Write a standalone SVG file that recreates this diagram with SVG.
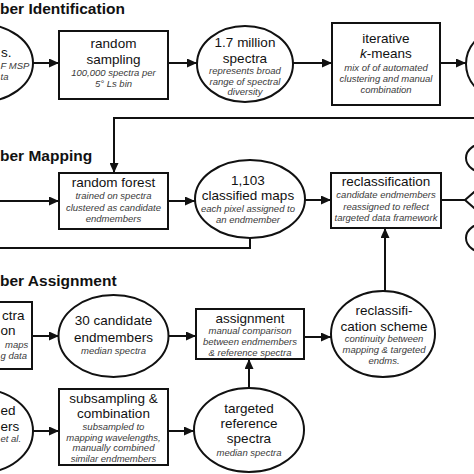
<svg xmlns="http://www.w3.org/2000/svg" width="474" height="474" viewBox="0 0 474 474">
<defs>
<marker id="ah" markerUnits="userSpaceOnUse" markerWidth="11" markerHeight="9" refX="10" refY="4.5" orient="auto">
<path d="M0,0 L10,4.5 L0,9 z" fill="#111"/>
</marker>
<style>
.t{font-family:"Liberation Sans",Arial,sans-serif;font-weight:bold;font-size:15.5px;fill:#111}
.m{font-family:"Liberation Sans",Arial,sans-serif;font-size:13.5px;fill:#111;text-anchor:middle}
.s{font-family:"Liberation Sans",Arial,sans-serif;font-size:9.5px;font-style:italic;fill:#3a3a3a;text-anchor:middle}
.l{text-anchor:start}
.n{fill:#fff;stroke:#111;stroke-width:2}
.c{fill:none;stroke:#111;stroke-width:2}
.a{marker-end:url(#ah)}
</style>
</defs>
<rect width="474" height="474" fill="#fff"/>
<g id="titles">
<text class="t" x="0" y="14">ber Identification</text>
<text class="t" x="0" y="161">ber Mapping</text>
<text class="t" x="0" y="286">ber Assignment</text>
</g>
<g id="connectors">
<line class="c a" x1="33" y1="63" x2="59" y2="63"/>
<line class="c a" x1="168" y1="63" x2="197" y2="63"/>
<line class="c a" x1="293" y1="63" x2="332" y2="63"/>
<line class="c a" x1="440" y1="63" x2="466" y2="63"/>
<polyline class="c a" points="474,118 114,118 114,173"/>
<line class="c a" x1="0" y1="201" x2="59" y2="201"/>
<line class="c a" x1="168" y1="201" x2="195" y2="201"/>
<line class="c a" x1="305" y1="200" x2="331" y2="200"/>
<line class="c" x1="441" y1="200" x2="465" y2="200"/>
<polyline class="c" points="250,238 250,248 0,248"/>
<line class="c a" x1="385" y1="292" x2="385" y2="228"/>
<line class="c a" x1="32" y1="336" x2="59" y2="336"/>
<line class="c a" x1="168" y1="336" x2="196" y2="336"/>
<line class="c a" x1="304" y1="337" x2="331" y2="337"/>
<line class="c a" x1="33" y1="431" x2="59" y2="431"/>
<line class="c a" x1="168" y1="431" x2="194" y2="431"/>
<line class="c a" x1="249" y1="388" x2="249" y2="359"/>
</g>
<g id="n-left1">
<ellipse class="n" cx="-20" cy="63" rx="53" ry="39"/>
<text class="m l" x="1" y="56.5">s.</text>
<text class="s l" x="0.5" y="69">F MSP</text>
<text class="s l" x="0.5" y="79.5">ta</text>
</g>
<g id="n-random-sampling">
<rect class="n" x="59" y="31" width="109" height="68"/>
<text class="m" x="113.5" y="48">random</text>
<text class="m" x="113.5" y="64">sampling</text>
<text class="s" x="113.5" y="76">100,000 spectra per</text>
<text class="s" x="113.5" y="87">5° Ls bin</text>
</g>
<g id="n-1-7-million">
<ellipse class="n" cx="245" cy="64" rx="48" ry="38"/>
<text class="m" x="245" y="47">1.7 million</text>
<text class="m" x="245" y="63">spectra</text>
<text class="s" x="245" y="74">represents broad</text>
<text class="s" x="245" y="84.5">range of spectral</text>
<text class="s" x="245" y="95">diversity</text>
</g>
<g id="n-kmeans">
<rect class="n" x="332" y="23" width="108" height="82"/>
<text class="m" x="386" y="43">iterative</text>
<text class="m" x="386" y="58"><tspan font-style="italic">k</tspan>-means</text>
<text class="s" x="386" y="71">mix of of automated</text>
<text class="s" x="386" y="82">clustering and manual</text>
<text class="s" x="386" y="93">combination</text>
</g>
<g id="n-right1">
<ellipse class="n" cx="511" cy="64" rx="45" ry="38"/>
</g>
<g id="n-random-forest">
<rect class="n" x="59" y="173" width="109" height="56"/>
<text class="m" x="113.5" y="187">random forest</text>
<text class="s" x="113.5" y="199">trained on spectra</text>
<text class="s" x="113.5" y="210.5">clustered as candidate</text>
<text class="s" x="113.5" y="221.5">endmembers</text>
</g>
<g id="n-classified-maps">
<ellipse class="n" cx="250" cy="199" rx="55" ry="39"/>
<text class="m" x="248" y="185">1,103</text>
<text class="m" x="248" y="200">classified maps</text>
<text class="s" x="248" y="212">each pixel assigned to</text>
<text class="s" x="248" y="222.5">an endmember</text>
</g>
<g id="n-reclassification">
<rect class="n" x="331" y="173" width="110" height="55"/>
<text class="m" x="386" y="186">reclassification</text>
<text class="s" x="386" y="198">candidate endmembers</text>
<text class="s" x="386" y="209.5">reassigned to reflect</text>
<text class="s" x="386" y="221">targeted data framework</text>
</g>
<g id="n-right2a"><ellipse class="n" cx="486" cy="158" rx="20" ry="15"/></g>
<g id="n-right2b"><polygon class="n" points="465,200 490,178 515,200 490,222"/></g>
<g id="n-right2c"><ellipse class="n" cx="486" cy="238" rx="20" ry="15"/></g>
<g id="n-left3">
<rect class="n" x="-80" y="302" width="112" height="67"/>
<text class="m l" x="2" y="320">ctra</text>
<text class="m l" x="0.5" y="335">on</text>
<text class="s l" x="5" y="348">maps</text>
<text class="s l" x="0.5" y="359">g data</text>
</g>
<g id="n-30-candidate">
<ellipse class="n" cx="113.5" cy="336" rx="55" ry="41"/>
<text class="m" x="113.5" y="325">30 candidate</text>
<text class="m" x="113.5" y="342">endmembers</text>
<text class="s" x="113.5" y="354">median spectra</text>
</g>
<g id="n-assignment">
<rect class="n" x="196" y="309" width="108" height="50"/>
<text class="m" x="250" y="323">assignment</text>
<text class="s" x="250" y="334">manual comparison</text>
<text class="s" x="250" y="345">between endmembers</text>
<text class="s" x="250" y="356">&amp; reference spectra</text>
</g>
<g id="n-reclass-scheme">
<ellipse class="n" cx="383" cy="334" rx="52" ry="43"/>
<text class="m" x="384" y="315">reclassifi-</text>
<text class="m" x="384" y="331">cation scheme</text>
<text class="s" x="384" y="342">continuity between</text>
<text class="s" x="384" y="353">mapping &amp; targeted</text>
<text class="s" x="384" y="363.5">endms.</text>
</g>
<g id="n-left4">
<ellipse class="n" cx="-20" cy="431" rx="53" ry="42"/>
<text class="m l" x="0.5" y="415">ed</text>
<text class="m l" x="0.5" y="431">ers</text>
<text class="s l" x="0.5" y="442">et al.</text>
</g>
<g id="n-subsampling">
<rect class="n" x="59" y="389" width="109" height="76"/>
<text class="m" x="113.5" y="403">subsampling &amp;</text>
<text class="m" x="113.5" y="418">combination</text>
<text class="s" x="113.5" y="430">subsampled to</text>
<text class="s" x="113.5" y="440.5">mapping wavelengths,</text>
<text class="s" x="113.5" y="451">manually combined</text>
<text class="s" x="113.5" y="461.5">similar endmembers</text>
</g>
<g id="n-targeted">
<ellipse class="n" cx="249" cy="430" rx="55" ry="42"/>
<text class="m" x="249" y="413">targeted</text>
<text class="m" x="249" y="428">reference</text>
<text class="m" x="249" y="443">spectra</text>
<text class="s" x="249" y="456">median spectra</text>
</g>
</svg>
